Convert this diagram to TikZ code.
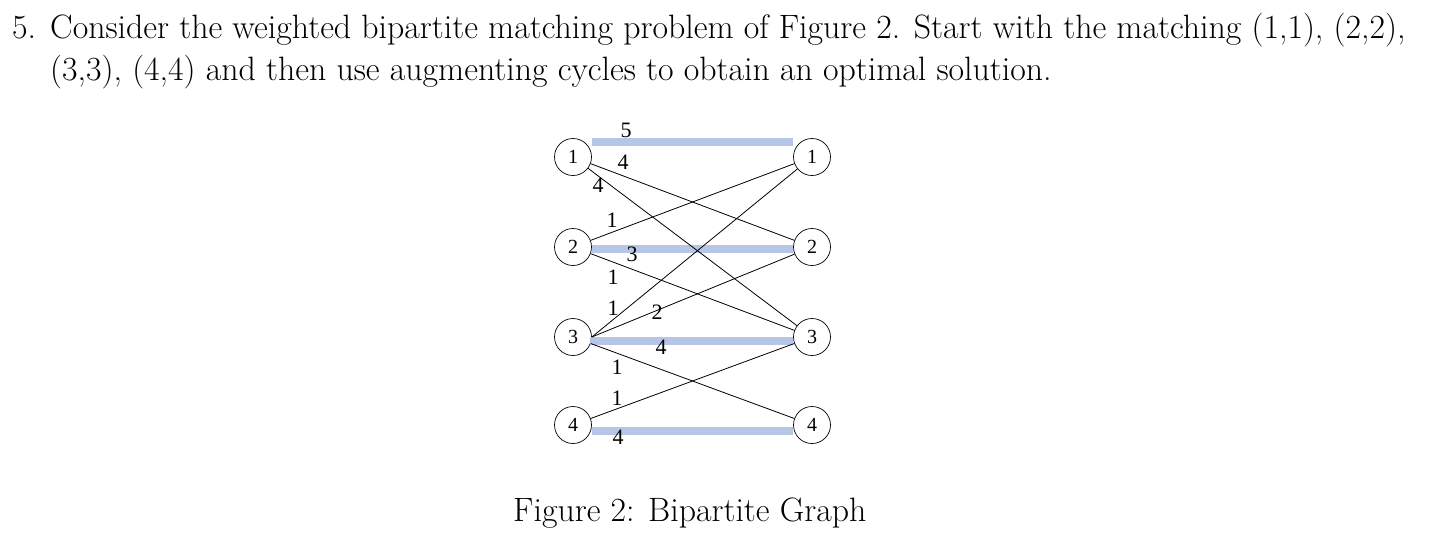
\documentclass[tikz,border=0pt]{standalone}
\usepackage{fontspec}
\newfontfamily\tnr{Liberation Serif}
\begin{document}
\begin{tikzpicture}[x=1pt,y=-1pt,
  vert/.style={circle,draw,line width=0.7pt,minimum size=37pt,inner sep=0pt,font=\tnr\fontsize{20}{20}\selectfont},
  edge/.style={line width=0.8pt},
  match/.style={line width=7.5pt,color={rgb,255:red,183;green,197;blue,230}},
  wlab/.style={font=\tnr\fontsize{22}{22}\selectfont,inner sep=0pt},
  txt/.style={font=\fontsize{33.8}{40}\selectfont,anchor=base west,inner sep=0pt}]
\useasboundingbox (0,0) rectangle (1430,536);
\node[txt] (t0) at (12,38) {5.};
\node[txt] (t1) at (50,38) {Consider the weighted bipartite matching problem of Figure 2. Start with the matching (1,1), (2,2),};
\node[txt] (t2) at (50,80) {(3,3), (4,4) and then use augmenting cycles to obtain an optimal solution.};
\node[txt] (cap) at (513,521) {Figure 2: Bipartite Graph};
\foreach \i/\y in {1/157,2/247,3/337,4/425}{
  \node[vert] (L\i) at (573,\y) {\i};
  \node[vert] (R\i) at (812,\y) {\i};
}
\draw[match] ([yshift=15]L1.east) -- ([yshift=15]R1.west);
\draw[match] ([yshift=-2]L2.east) -- ([yshift=-2]R2.west);
\draw[match] ([xshift=-2,yshift=-4]L3.east) -- ([yshift=-4]R3.west);
\draw[match] ([yshift=-6]L4.east) -- ([yshift=-6]R4.west);
\draw[edge] (L1) -- (R2);
\draw[edge] (L1) -- (R3);
\draw[edge] (L2) -- (R1);
\draw[edge] (L2) -- (R3);
\draw[edge] (L3.east) -- (R1);
\draw[edge] (L3.east) -- (R2);
\draw[edge] (L3) -- (R4);
\draw[edge] (L4) -- (R3);
\node[wlab] (w1) at (626,130) {5};
\node[wlab] (w2) at (623,162) {4};
\node[wlab] (w3) at (598,185) {4};
\node[wlab] (w4) at (612,220) {1};
\node[wlab] (w5) at (632,254) {3};
\node[wlab] (w6) at (613,277) {1};
\node[wlab] (w7) at (613,308) {1};
\node[wlab] (w8) at (657,312) {2};
\node[wlab] (w9) at (661,347) {4};
\node[wlab] (w10) at (617,367) {1};
\node[wlab] (w11) at (617,398) {1};
\node[wlab] (w12) at (618,437) {4};
\end{tikzpicture}
\end{document}
